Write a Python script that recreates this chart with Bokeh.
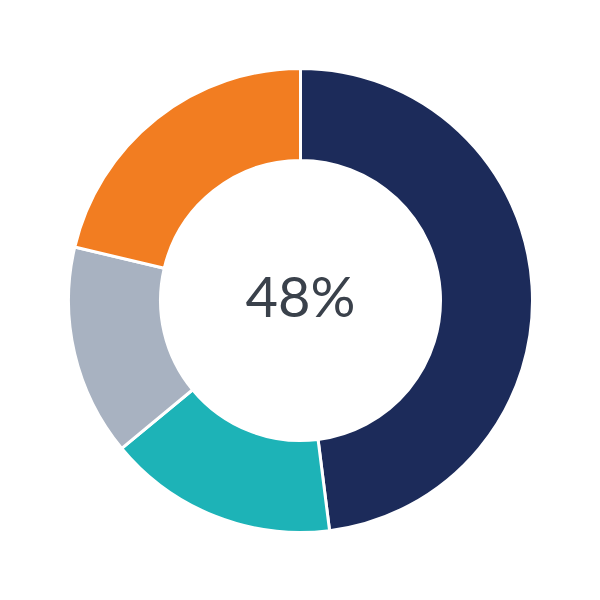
import math
from bokeh.plotting import figure
from bokeh.models import ColumnDataSource, Range1d
from bokeh.core.properties import value
from bokeh.embed import file_html
from bokeh.resources import INLINE

categories = ["A", "B", "C", "D"]
values = [48, 16, 14.7, 21.3]
colors = ["#1c2b5a", "#1db3b7", "#a8b2c1", "#f27d21"]
center_label = "48%"

total = sum(values)
starts, ends = [], []
cum = 0.0
for v in values:
    starts.append(math.pi / 2 - 2 * math.pi * cum / total)
    cum += v
    ends.append(math.pi / 2 - 2 * math.pi * cum / total)

src = ColumnDataSource(dict(cat=categories, val=values, color=colors,
                            start=starts, end=ends,
                            x=[0] * len(values), y=[0] * len(values)))

W = 584
p = figure(width=W, height=W, output_backend="svg", toolbar_location=None,
           x_range=Range1d(-300, W - 300), y_range=Range1d(300 - W, 300),
           min_border=0, outline_line_color=None)
p.axis.visible = False
p.grid.visible = False
p.background_fill_color = "white"
p.border_fill_color = "white"

p.annular_wedge(x="x", y="y", inner_radius=140, outer_radius=232,
                start_angle="start", end_angle="end", direction="clock",
                fill_color="color", line_color="white", line_width=3, source=src)

p.text(x=[0], y=[5], text=[center_label], text_align="center",
       text_baseline="middle", text_font=value("Lato"),
       text_font_size="56px", text_color="#3a414b")

open("out.html", "w").write(file_html(p, INLINE))
